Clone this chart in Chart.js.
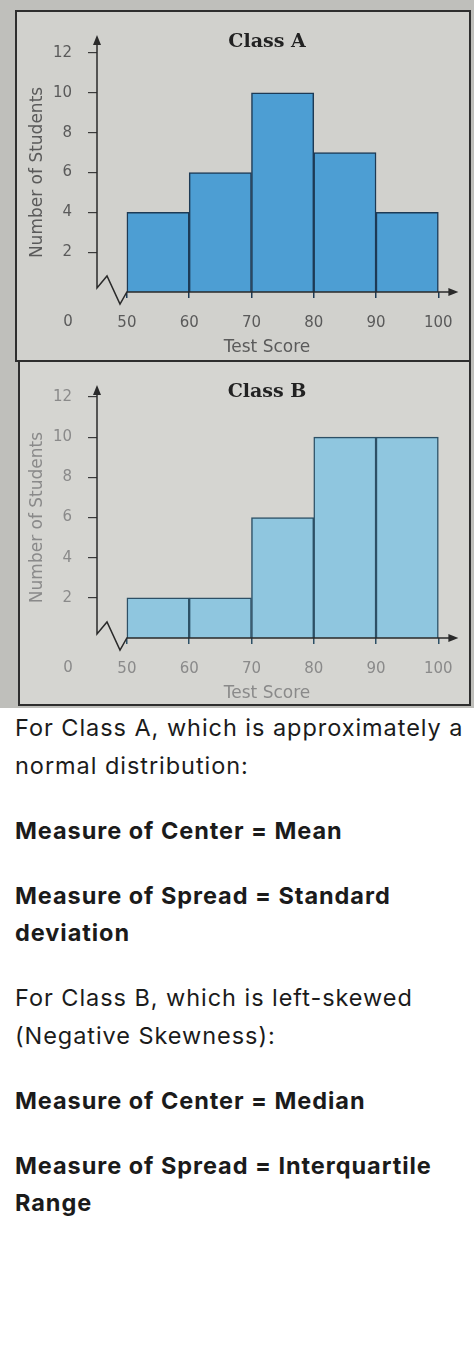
<!DOCTYPE html>
<html>
<head>
<meta charset="utf-8">
<script src="https://cdn.jsdelivr.net/npm/chart.js@4.4.0/dist/chart.umd.min.js"></script>
<style>
body { margin: 0; background: #fff; width: 474px; }
#top { position: relative; width: 474px; height: 708px; background: #bfbfbb; }
.panel { position: absolute; box-sizing: border-box; border: 2px solid #2e2e2e; background: #d1d1cd; }
#panelA { left: 15px; top: 10px; width: 456px; height: 352px; }
#panelB { left: 18px; top: 360px; width: 453px; height: 346px; background: #d5d5d1; }
.panel canvas { position: absolute; left: 0; top: 0; }
#text { padding: 1px 0 0 15px; font-family: Inter, "Noto Sans", sans-serif; font-size: 23.5px; letter-spacing: 0.95px; color: #1b1b1b; }
#text p { margin: 0 0 27.5px; line-height: 37.5px; }
.b { font-weight: 700; }
</style>
</head>
<body>
<div id="top">
  <div class="panel" id="panelA"><canvas id="chartA" width="452" height="348"></canvas></div>
  <div class="panel" id="panelB"><canvas id="chartB" width="449" height="342"></canvas></div>
</div>
<div id="text">
  <p>For Class A, which is approximately a<br>normal distribution:</p>
  <p class="b">Measure of Center = Mean</p>
  <p class="b">Measure of Spread = Standard<br>deviation</p>
  <p>For Class B, which is left-skewed<br>(Negative Skewness):</p>
  <p class="b">Measure of Center = Median</p>
  <p class="b">Measure of Spread = Interquartile<br>Range</p>
</div>
<script>
// bin edges of the test scores
const binEdges = [50, 60, 70, 80, 90, 100];
// number of students per bin
const classA = [4, 6, 10, 7, 4];
const classB = [2, 2, 6, 10, 10];
const yTicks = [2, 4, 6, 8, 10, 12];
const xTicks = [50, 60, 70, 80, 90, 100];

function arrow(ctx, x, y, dir) {
    ctx.beginPath();
    if (dir === 'up') {
        ctx.moveTo(x, y - 2); ctx.lineTo(x - 4, y + 8); ctx.lineTo(x + 4, y + 8);
    } else {
        ctx.moveTo(x + 2, y); ctx.lineTo(x - 8, y - 4); ctx.lineTo(x - 8, y + 4);
    }
    ctx.closePath();
    ctx.fill();
}

const axesPlugin = {
    id: 'axesPlugin',
    afterDatasetsDraw(chart, args, opts) {
        const ctx = chart.ctx;
        const ca = chart.chartArea;
        const xs = chart.scales.x, ys = chart.scales.y;
        const x50 = xs.getPixelForValue(binEdges[0]);
        ctx.save();
        ctx.strokeStyle = '#2a2a2a';
        ctx.fillStyle = '#2a2a2a';
        ctx.lineWidth = 1.5;
        // y axis
        ctx.beginPath();
        ctx.moveTo(ca.left, ca.top + 4);
        ctx.lineTo(ca.left, ca.bottom - 4);
        // break zigzag
        ctx.lineTo(ca.left + 10, ca.bottom - 16);
        ctx.lineTo(ca.left + 23, ca.bottom + 12);
        ctx.lineTo(x50, ca.bottom);
        // x axis
        ctx.lineTo(ca.right - 4, ca.bottom);
        ctx.stroke();
        arrow(ctx, ca.left, ca.top, 'up');
        arrow(ctx, ca.right, ca.bottom, 'right');

        // texts
        ctx.textAlign = 'center';
        ctx.textBaseline = 'middle';
        ctx.fillStyle = '#222';
        ctx.font = 'bold 19px "DejaVu Serif"';
        ctx.fillText(opts.title, ca.left + 170, ca.top + 5);
        ctx.fillStyle = opts.textColor;
        ctx.font = '17px "DejaVu Sans"';
        ctx.fillText('Test Score', ca.left + 170, ca.bottom + 56);
        ctx.font = '15px "DejaVu Sans"';
        ctx.fillText('0', ca.left - 29, ca.bottom + 30);
        const midY = (ys.getPixelForValue(0) + ys.getPixelForValue(yTicks[yTicks.length - 1])) / 2;
        ctx.translate(ca.left - 59, midY);
        ctx.rotate(-Math.PI / 2);
        ctx.font = '17px "DejaVu Sans"';
        ctx.fillText('Number of Students', 0, 0);
        ctx.restore();
    }
};

function makeHist(id, title, values, fill, border, textColor, lay) {
    const points = values.map((v, i) => ({ x: (binEdges[i] + binEdges[i + 1]) / 2, y: v }));
    return new Chart(document.getElementById(id), {
        type: 'bar',
        data: {
            datasets: [{
                data: points,
                backgroundColor: fill,
                borderColor: border,
                borderWidth: 1.5,
                barPercentage: 1,
                categoryPercentage: 1
            }]
        },
        plugins: [axesPlugin],
        options: {
            responsive: false,
            animation: false,
            devicePixelRatio: 1,
            layout: { padding: { top: lay.padTop, right: lay.padRight, left: 0, bottom: 0 } },
            plugins: {
                legend: { display: false },
                tooltip: { enabled: false },
                axesPlugin: { title: title, textColor: textColor }
            },
            scales: {
                x: {
                    type: 'linear',
                    offset: false,
                    min: 45.2,
                    max: 102.9,
                    afterBuildTicks: s => { s.ticks = xTicks.map(v => ({ value: v })); },
                    afterFit: s => { s.height = lay.xHeight; },
                    border: { display: false },
                    grid: { offset: false, drawOnChartArea: false, drawTicks: true, tickLength: 6, color: border, lineWidth: 1.5 },
                    ticks: { padding: 16, color: textColor, font: { family: 'DejaVu Sans', size: 15 }, maxRotation: 0 }
                },
                y: {
                    min: 0,
                    max: lay.yMax,
                    afterBuildTicks: s => { s.ticks = yTicks.map(v => ({ value: v })); },
                    afterFit: s => { s.width = lay.yWidth; },
                    border: { display: false },
                    grid: { drawOnChartArea: false, drawTicks: true, tickLength: 9, color: '#3a3a3a', lineWidth: 1.2 },
                    ticks: { padding: 16, color: textColor, font: { family: 'DejaVu Sans', size: 15 } }
                }
            }
        }
    });
}

makeHist('chartA', 'Class A', classA, '#4d9ed3', '#1d3a55', '#5a5a5a',
    { padTop: 13, padRight: 7, xHeight: 68, yWidth: 80, yMax: 12.8 });
makeHist('chartB', 'Class B', classB, '#8fc6df', '#2d5066', '#8a8a8a',
    { padTop: 16, padRight: 7, xHeight: 66, yWidth: 77, yMax: 12.5 });
</script>
</body>
</html>
